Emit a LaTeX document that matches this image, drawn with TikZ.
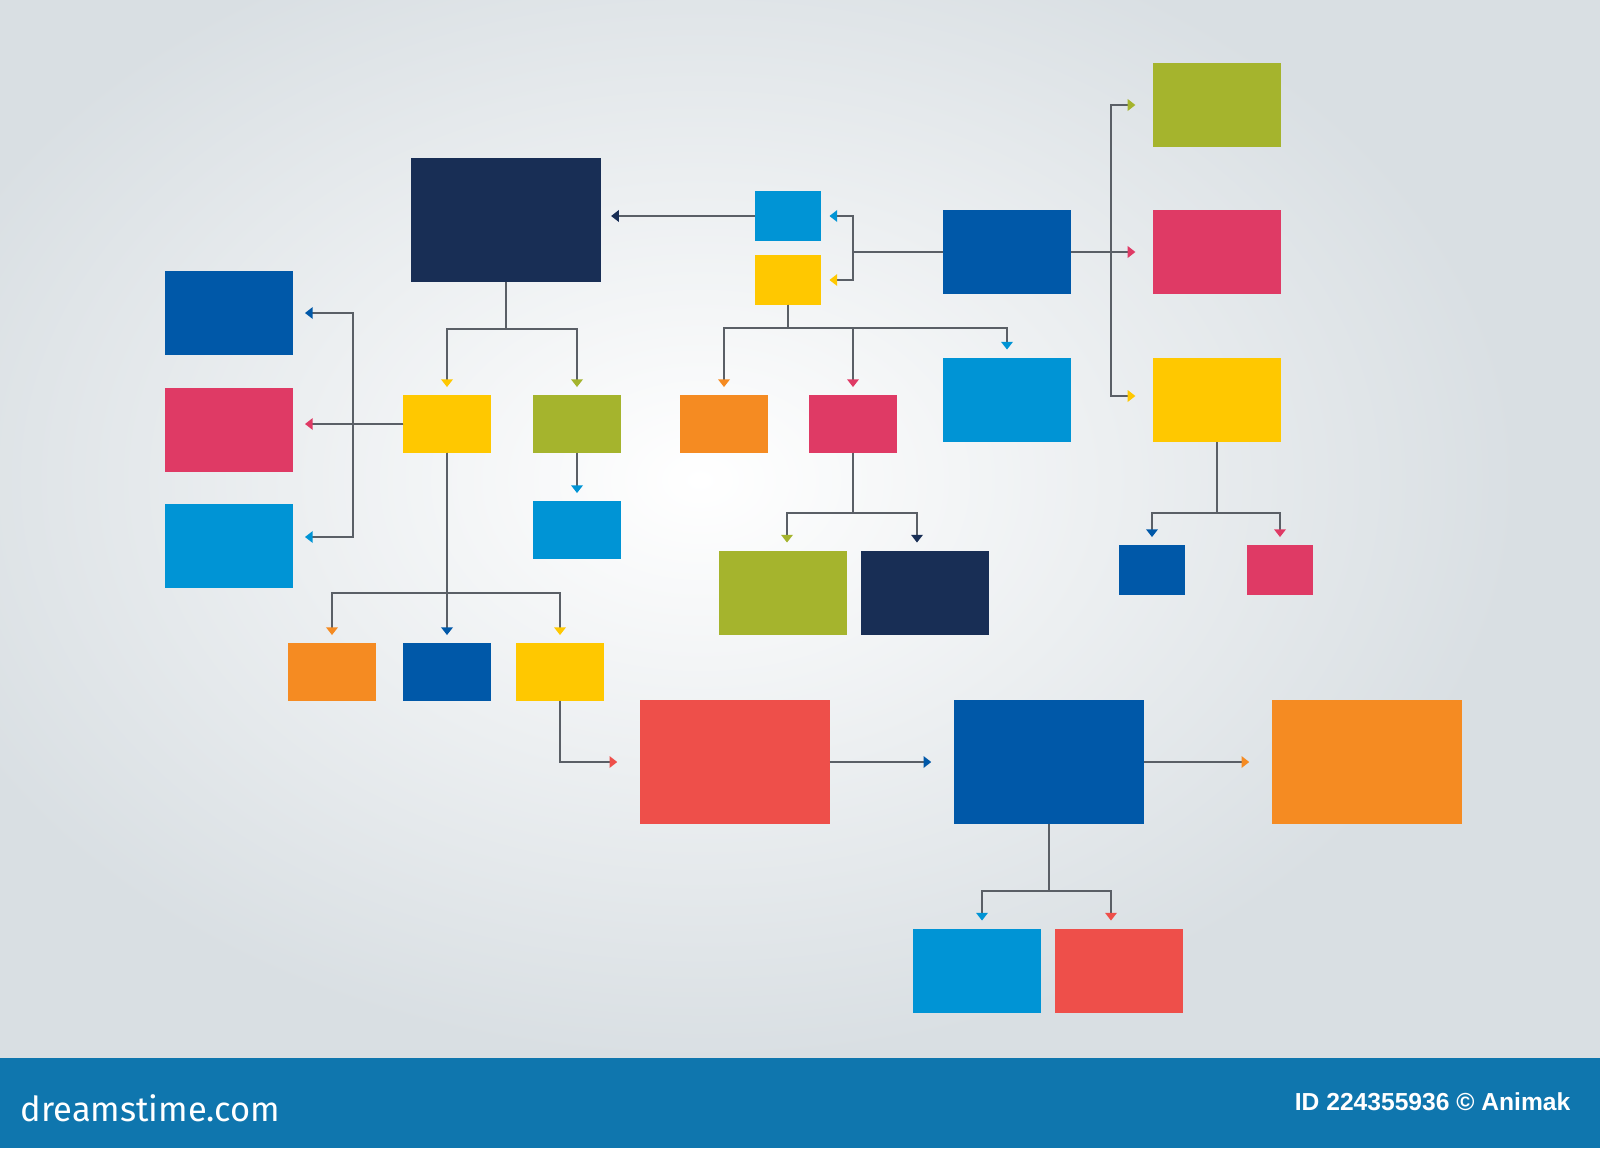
\documentclass[tikz,border=0pt]{standalone}
\usepackage{fontspec}
\usetikzlibrary{arrows.meta}
\newfontfamily\sitefont{Fira Sans}
\newfontfamily\idfont{Liberation Sans}

\definecolor{navyC}{HTML}{182E55}
\definecolor{blueC}{HTML}{0058A8}
\definecolor{cyanC}{HTML}{0094D5}
\definecolor{yellowC}{HTML}{FFC800}
\definecolor{greenC}{HTML}{A5B42D}
\definecolor{pinkC}{HTML}{DF3A65}
\definecolor{orangeC}{HTML}{F58B22}
\definecolor{redC}{HTML}{EE4F4A}
\definecolor{lineC}{HTML}{5A5F66}
\definecolor{bgC}{HTML}{D9DFE3}
\definecolor{barC}{HTML}{0F76AE}

\begin{document}
\begin{tikzpicture}[%
      x=0.01cm, y=-0.01cm,
      box/.style={rectangle, fill=#1, inner sep=0pt, outer sep=0pt},
      bigbox/.style={box=#1, minimum width=1.89cm, minimum height=1.23cm},
      midbox/.style={box=#1, minimum width=1.28cm, minimum height=0.84cm},
      smallbox/.style={box=#1, minimum width=0.87cm, minimum height=0.57cm},
      tinybox/.style={box=#1, minimum width=0.66cm, minimum height=0.49cm},
      link/.style={draw=lineC, line width=0.45pt, shorten >=2.4pt},
      pointto/.style={-{Triangle[width=3.3pt, length=2.2pt, color=#1]}},
      ]
      \useasboundingbox (0,0) rectangle (1600,1148);
      \fill[bgC] (0,0) rectangle (1600,1058);
      \shade[inner color=white, outer color=bgC] (700,480) ellipse [x radius=8.2cm, y radius=5.8cm];
      \fill[barC] (0,1058) rectangle (1600,1148);

      \node[anchor=west, inner sep=0pt, text=white, font=\sitefont\fontsize{9.8}{12}\selectfont] (site) at (20,1108) {dreamstime.com};
      \node[anchor=east, inner sep=0pt, text=white, font=\idfont\bfseries\fontsize{7}{8}\selectfont] (imgid) at (1571,1102) {ID 224355936 © Animak};

      \node[bigbox=navyC] (main) at (506,220) {};
      \node[tinybox=cyanC] (topcyan) at (788,216) {};
      \node[tinybox=yellowC] (topyellow) at (788,280) {};
      \node[midbox=blueC] (hub) at (1007,252) {};
      \node[midbox=greenC] (rgreen) at (1217,105) {};
      \node[midbox=pinkC] (rpink) at (1217,252) {};
      \node[midbox=yellowC] (ryellow) at (1217,400) {};
      \node[tinybox=blueC] (rblue2) at (1152,570) {};
      \node[tinybox=pinkC] (rpink2) at (1280,570) {};

      \node[midbox=blueC] (lblue) at (229,313) {};
      \node[midbox=pinkC] (lpink) at (229,430) {};
      \node[midbox=cyanC] (lcyan) at (229,546) {};
      \node[smallbox=yellowC] (myellow) at (447,424) {};
      \node[smallbox=greenC] (mgreen) at (577,424) {};
      \node[smallbox=cyanC] (mcyan) at (577,530) {};
      \node[smallbox=orangeC] (corange) at (724,424) {};
      \node[smallbox=pinkC] (cpink) at (853,424) {};
      \node[midbox=cyanC] (ccyan) at (1007,400) {};
      \node[midbox=greenC] (cgreen) at (783,593) {};
      \node[midbox=navyC] (cnavy) at (925,593) {};

      \node[smallbox=orangeC] (borange) at (332,672) {};
      \node[smallbox=blueC] (bblue) at (447,672) {};
      \node[smallbox=yellowC] (byellow) at (560,672) {};
      \node[bigbox=redC] (fred) at (735,762) {};
      \node[bigbox=blueC] (fblue) at (1049,762) {};
      \node[bigbox=orangeC] (forange) at (1367,762) {};
      \node[midbox=cyanC] (lastcyan) at (977,971) {};
      \node[midbox=redC] (lastred) at (1119,971) {};

      \coordinate (j1) at (506,329);
      \coordinate (j2) at (788,328);
      \coordinate (j3) at (853,252);
      \coordinate (j4) at (1111,252);
      \coordinate (j5) at (353,424);
      \coordinate (j6) at (447,593);
      \coordinate (j7) at (853,513);
      \coordinate (j8) at (1217,513);
      \coordinate (j9) at (1049,891);

      \draw[link, pointto=navyC, shorten >=3pt] (topcyan.west) -- (topcyan.west -| main.east);
      \draw[link, pointto=cyanC] (hub.west) -- (j3) |- (topcyan.east);
      \draw[link, pointto=yellowC] (hub.west) -- (j3) |- (topyellow.east);
      \draw[link, pointto=greenC, shorten >=5pt] (hub.east) -- (j4) |- (rgreen.west);
      \draw[link, pointto=pinkC, shorten >=5pt] (hub.east) -- (rpink.west);
      \draw[link, pointto=yellowC, shorten >=5pt] (hub.east) -- (j4) |- ([yshift=0.04cm]ryellow.west);

      \draw[link, pointto=yellowC] (main.south) -- (j1) -| (myellow.north);
      \draw[link, pointto=greenC] (main.south) -- (j1) -| (mgreen.north);
      \draw[link, pointto=orangeC] (topyellow.south) -- (j2) -| (corange.north);
      \draw[link, pointto=pinkC] (topyellow.south) -- (j2) -| (cpink.north);
      \draw[link, pointto=cyanC] (topyellow.south) -- (j2) -| (ccyan.north);

      \draw[link, pointto=pinkC, shorten >=3.4pt] (myellow.west) -- (myellow.west -| lpink.east);
      \draw[link, pointto=blueC, shorten >=3.4pt] (myellow.west) -- (j5) |- (lblue.east);
      \draw[link, pointto=cyanC, shorten >=3.4pt] (myellow.west) -- (j5) |- ([yshift=0.09cm]lcyan.east);
      \draw[link, pointto=orangeC] (myellow.south) -- (j6) -| (borange.north);
      \draw[link, pointto=blueC] (myellow.south) -- (bblue.north);
      \draw[link, pointto=yellowC] (myellow.south) -- (j6) -| (byellow.north);
      \draw[link, pointto=cyanC] (mgreen.south) -- (mcyan.north);

      \draw[link, pointto=greenC] (cpink.south) -- (j7) -| ([xshift=0.04cm]cgreen.north);
      \draw[link, pointto=navyC] (cpink.south) -- (j7) -| ([xshift=-0.08cm]cnavy.north);
      \draw[link, pointto=blueC] (ryellow.south) -- (j8) -| (rblue2.north);
      \draw[link, pointto=pinkC] (ryellow.south) -- (j8) -| (rpink2.north);

      \draw[link, pointto=redC, shorten >=6.6pt] (byellow.south) |- (fred.west);
      \draw[link, pointto=blueC, shorten >=6.6pt] (fred.east) -- (fblue.west);
      \draw[link, pointto=orangeC, shorten >=6.6pt] (fblue.east) -- (forange.west);
      \draw[link, pointto=cyanC] (fblue.south) -- (j9) -| ([xshift=0.05cm]lastcyan.north);
      \draw[link, pointto=redC] (fblue.south) -- (j9) -| ([xshift=-0.08cm]lastred.north);
      \end{tikzpicture}
\end{document}
